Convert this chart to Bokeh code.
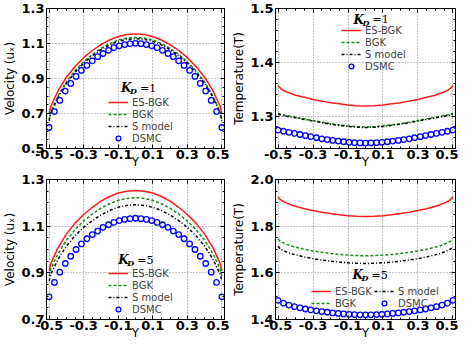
from bokeh.plotting import figure
from bokeh.layouts import column, row
from bokeh.models import (Range1d, FixedTicker, PrintfTickFormatter, LinearAxis,
                          Legend, LegendItem, Label)
from bokeh.embed import file_html
from bokeh.resources import INLINE

# ---------------- data ----------------
y_line = [-0.5, -0.49, -0.475, -0.45, -0.425, -0.4, -0.35, -0.3, -0.25, -0.2, -0.15, -0.1, -0.05, 0.0,
          0.05, 0.1, 0.15, 0.2, 0.25, 0.3, 0.35, 0.4, 0.425, 0.45, 0.475, 0.49, 0.5]
y_dsmc = [-0.5, -0.469, -0.438, -0.406, -0.375, -0.344, -0.313, -0.281, -0.25, -0.219, -0.188,
          -0.156, -0.125, -0.094, -0.063, -0.031, 0.0, 0.031, 0.063, 0.094, 0.125, 0.156, 0.188,
          0.219, 0.25, 0.281, 0.313, 0.344, 0.375, 0.406, 0.438, 0.469, 0.5]

# K_D = 1, velocity
u1_esbgk = [0.700, 0.741, 0.773, 0.826, 0.868, 0.907, 0.969, 1.019, 1.060, 1.094, 1.120, 1.140, 1.151, 1.155,
            1.151, 1.140, 1.120, 1.094, 1.060, 1.019, 0.969, 0.907, 0.868, 0.826, 0.773, 0.741, 0.700]
u1_bgk = [0.667, 0.709, 0.742, 0.797, 0.840, 0.880, 0.944, 0.996, 1.038, 1.072, 1.099, 1.120, 1.131, 1.135,
          1.131, 1.120, 1.099, 1.072, 1.038, 0.996, 0.944, 0.880, 0.840, 0.797, 0.742, 0.709, 0.667]
u1_s = [0.658, 0.700, 0.733, 0.789, 0.832, 0.872, 0.936, 0.988, 1.030, 1.065, 1.092, 1.112, 1.124, 1.128,
        1.124, 1.112, 1.092, 1.065, 1.030, 0.988, 0.936, 0.872, 0.832, 0.789, 0.733, 0.700, 0.658]
u1_dsmc = [0.620, 0.711, 0.775, 0.828, 0.872, 0.912, 0.946, 0.975, 1.001, 1.025, 1.043, 1.061, 1.076,
           1.087, 1.094, 1.099, 1.101, 1.099, 1.094, 1.087, 1.076, 1.061, 1.043, 1.025, 1.001, 0.975,
           0.946, 0.912, 0.872, 0.828, 0.775, 0.711, 0.620]

# K_D = 1, temperature
t1_esbgk = [1.357, 1.353, 1.349, 1.345, 1.342, 1.339, 1.335, 1.331, 1.328, 1.325, 1.323, 1.321, 1.3195, 1.319,
            1.3195, 1.321, 1.323, 1.325, 1.328, 1.331, 1.335, 1.339, 1.342, 1.345, 1.349, 1.353, 1.357]
t1_bgk = [1.305, 1.304, 1.303, 1.301, 1.300, 1.298, 1.295, 1.292, 1.289, 1.286, 1.284, 1.282, 1.2805, 1.280,
          1.2805, 1.282, 1.284, 1.286, 1.289, 1.292, 1.295, 1.298, 1.300, 1.301, 1.303, 1.304, 1.305]
t1_s = [1.304, 1.303, 1.301, 1.300, 1.298, 1.297, 1.294, 1.291, 1.288, 1.285, 1.283, 1.281, 1.2795, 1.279,
        1.2795, 1.281, 1.283, 1.285, 1.288, 1.291, 1.294, 1.297, 1.298, 1.300, 1.301, 1.303, 1.304]
t1_dsmc = [1.274, 1.272, 1.270, 1.268, 1.266, 1.264, 1.262, 1.260, 1.258, 1.2565, 1.255, 1.2537, 1.2525,
           1.2515, 1.2508, 1.2503, 1.250, 1.2503, 1.2508, 1.2515, 1.2525, 1.2537, 1.255, 1.2565, 1.258,
           1.260, 1.262, 1.264, 1.266, 1.268, 1.270, 1.272, 1.274]

# K_D = 5, velocity
u5_esbgk = [0.909, 0.940, 0.964, 1.005, 1.036, 1.066, 1.113, 1.150, 1.181, 1.207, 1.227, 1.242, 1.250, 1.253,
            1.250, 1.242, 1.227, 1.207, 1.181, 1.150, 1.113, 1.066, 1.036, 1.005, 0.964, 0.940, 0.909]
u5_bgk = [0.886, 0.916, 0.940, 0.979, 1.010, 1.039, 1.085, 1.122, 1.152, 1.177, 1.196, 1.211, 1.219, 1.222,
          1.219, 1.211, 1.196, 1.177, 1.152, 1.122, 1.085, 1.039, 1.010, 0.979, 0.940, 0.916, 0.886]
u5_s = [0.865, 0.894, 0.917, 0.956, 0.986, 1.014, 1.059, 1.095, 1.124, 1.148, 1.167, 1.181, 1.189, 1.192,
        1.189, 1.181, 1.167, 1.148, 1.124, 1.095, 1.059, 1.014, 0.986, 0.956, 0.917, 0.894, 0.865]
u5_dsmc = [0.797, 0.859, 0.903, 0.940, 0.971, 1.000, 1.024, 1.046, 1.064, 1.079, 1.095, 1.106, 1.116,
           1.124, 1.129, 1.132, 1.134, 1.132, 1.129, 1.124, 1.116, 1.106, 1.095, 1.079, 1.064, 1.046,
           1.024, 1.000, 0.971, 0.940, 0.903, 0.859, 0.797]

# K_D = 5, temperature
t5_esbgk = [1.926, 1.916, 1.908, 1.899, 1.891, 1.885, 1.875, 1.867, 1.860, 1.854, 1.849, 1.845, 1.842, 1.841,
            1.842, 1.845, 1.849, 1.854, 1.860, 1.867, 1.875, 1.885, 1.891, 1.899, 1.908, 1.916, 1.926]
t5_bgk = [1.745, 1.737, 1.730, 1.722, 1.715, 1.710, 1.701, 1.694, 1.688, 1.683, 1.679, 1.676, 1.674, 1.673,
          1.674, 1.676, 1.679, 1.683, 1.688, 1.694, 1.701, 1.710, 1.715, 1.722, 1.730, 1.737, 1.745]
t5_s = [1.714, 1.704, 1.697, 1.689, 1.682, 1.677, 1.668, 1.661, 1.655, 1.650, 1.646, 1.643, 1.641, 1.640,
        1.641, 1.643, 1.646, 1.650, 1.655, 1.661, 1.668, 1.677, 1.682, 1.689, 1.697, 1.704, 1.714]
t5_dsmc = [1.482, 1.470, 1.462, 1.455, 1.450, 1.445, 1.441, 1.437, 1.434, 1.431, 1.428, 1.426, 1.424,
           1.422, 1.421, 1.420, 1.420, 1.420, 1.421, 1.422, 1.424, 1.426, 1.428, 1.431, 1.434, 1.437,
           1.441, 1.445, 1.450, 1.455, 1.462, 1.470, 1.482]

x_ticks = [-0.5, -0.3, -0.1, 0.1, 0.3, 0.5]
yticks_u1 = [0.5, 0.7, 0.9, 1.1, 1.3]
yticks_t1 = [1.3, 1.4, 1.5]
yticks_u5 = [0.7, 0.9, 1.1, 1.3]
yticks_t5 = [1.4, 1.6, 1.8, 2.0]

series_names = ["ES-BGK", "BGK", "S model", "DSMC"]
kd_values = ["=1", "=5"]
x_label = "Y"

# ---------------- styling helpers ----------------
FONT = "DejaVu Sans"
RED, GREEN, BLACK, BLUE = "#ff1a1a", "#1a8a1a", "#000000", "#0000ff"


def minor_list(lo, hi, step):
    n = int(round((hi - lo) / step))
    return [round(lo + i * step, 4) for i in range(n + 1)]


def style_axis(ax, ticks, minor, show_labels=True):
    ax.ticker = FixedTicker(ticks=ticks, minor_ticks=minor)
    ax.formatter = PrintfTickFormatter(format="%.1f")
    ax.major_tick_in = 4
    ax.major_tick_out = 0
    ax.minor_tick_in = 2
    ax.minor_tick_out = 0
    ax.major_tick_line_color = "black"
    ax.minor_tick_line_color = "black"
    ax.axis_line_color = "black"
    ax.major_label_text_font = FONT
    ax.major_label_text_font_style = "bold"
    ax.major_label_text_color = "black"
    ax.major_label_text_line_height = 1.0
    if show_labels:
        ax.major_label_text_font_size = "13px"
        ax.major_label_standoff = 2
    else:
        ax.major_label_text_font_size = "1px"
        ax.major_label_text_color = None
        ax.major_label_standoff = 0
    ax.axis_label_text_font = FONT
    ax.axis_label_text_font_size = "12px"
    ax.axis_label_text_font_style = "normal"
    ax.axis_label_text_color = "black"
    ax.axis_label_text_line_height = 1.0
    ax.axis_label_standoff = 1


def make_panel(yr, yticks, ystep_minor, ylabel, width, height, mbl, mbr, mbt, mbb):
    p = figure(width=width, height=height, x_range=Range1d(-0.515, 0.515), y_range=Range1d(*yr),
               output_backend="svg", toolbar_location=None,
               min_border_left=mbl, min_border_right=mbr, min_border_top=mbt, min_border_bottom=mbb)
    p.outline_line_color = "black"
    p.outline_line_width = 1
    p.background_fill_color = "white"
    p.border_fill_color = "white"
    xminor = minor_list(-0.5, 0.5, 0.05)
    yminor = minor_list(yr[0], yr[1], ystep_minor)
    style_axis(p.xaxis[0], x_ticks, xminor)
    style_axis(p.yaxis[0], yticks, yminor)
    p.xaxis[0].axis_label = x_label
    p.xaxis[0].major_label_standoff = 1
    p.xaxis[0].axis_label_standoff = -7
    p.yaxis[0].axis_label = ylabel
    ax_r = LinearAxis()
    style_axis(ax_r, yticks, yminor, show_labels=False)
    p.add_layout(ax_r, "right")
    ax_t = LinearAxis()
    style_axis(ax_t, x_ticks, xminor, show_labels=False)
    p.add_layout(ax_t, "above")
    p.xgrid.ticker = FixedTicker(ticks=x_ticks)
    p.ygrid.ticker = FixedTicker(ticks=yticks)
    for g in (p.xgrid, p.ygrid):
        g.grid_line_color = "#8a8a8a"
        g.grid_line_dash = "1 2"
        g.grid_line_width = 1
    return p


def add_series(p, ys):
    r1 = p.line(y_line, ys[0], line_color=RED, line_width=1.5)
    r2 = p.line(y_line, ys[1], line_color=GREEN, line_width=1.5, line_dash="3 2")
    r3 = p.line(y_line, ys[2], line_color=BLACK, line_width=1.5, line_dash="3 2 1 2")
    r4 = p.scatter(y_dsmc, ys[3], marker="circle", size=5.5, line_color=BLUE, line_width=1.3,
                   fill_color=None)
    return [r1, r2, r3, r4]


def make_legend(items, loc):
    lg = Legend(items=items, location=loc)
    lg.background_fill_alpha = 0
    lg.border_line_color = None
    lg.padding = 0
    lg.margin = 0
    lg.spacing = 0
    lg.label_text_font = FONT
    lg.label_text_font_size = "10px"
    lg.label_height = 12
    lg.glyph_height = 12
    lg.glyph_width = 20
    lg.label_standoff = 4
    return lg


def add_kd(p, x, y, kd):
    common = dict(text_font="DejaVu Serif", text_color="black", text_baseline="middle")
    p.add_layout(Label(x=x, y=y, text="K", text_font_size="12px", text_font_style="bold italic", **common))
    p.add_layout(Label(x=x, y=y, x_offset=9, y_offset=-3, text="D", text_font_size="8px",
                       text_font_style="bold italic", **common))
    p.add_layout(Label(x=x, y=y, x_offset=19, text=kd, text_font_size="11px",
                       text_font_style="normal", **common))


# ---------------- panels ----------------
p1 = make_panel((0.5, 1.3), yticks_u1, 0.05, "Velocity (uₓ)", 229, 171, 30, 5, 8, 20)
r = add_series(p1, [u1_esbgk, u1_bgk, u1_s, u1_dsmc])
p1.add_layout(make_legend([LegendItem(label=n, renderers=[rr]) for n, rr in zip(series_names, r)], (62, 4)))
add_kd(p1, -0.084, 0.843, kd_values[0])

p2 = make_panel((1.24, 1.5), yticks_t1, 0.02, "Temperature(T)", 229, 171, 30, 3, 8, 20)
r = add_series(p2, [t1_esbgk, t1_bgk, t1_s, t1_dsmc])
p2.add_layout(make_legend([LegendItem(label=n, renderers=[rr]) for n, rr in zip(series_names, r)], (66, 76)))
add_kd(p2, -0.068, 1.4795, kd_values[0])

p3 = make_panel((0.7, 1.3), yticks_u5, 0.05, "Velocity (uₓ)", 229, 171, 30, 5, 8, 20)
r = add_series(p3, [u5_esbgk, u5_bgk, u5_s, u5_dsmc])
p3.add_layout(make_legend([LegendItem(label=n, renderers=[rr]) for n, rr in zip(series_names, r)], (62, 4)))
add_kd(p3, -0.1, 0.955, kd_values[1])

p4 = make_panel((1.4, 2.0), yticks_t5, 0.05, "Temperature(T)", 229, 171, 30, 3, 8, 20)
r = add_series(p4, [t5_esbgk, t5_bgk, t5_s, t5_dsmc])
p4.add_layout(make_legend([LegendItem(label=n, renderers=[rr]) for n, rr in zip(series_names[:2], r[:2])], (36, 10)))
p4.add_layout(make_legend([LegendItem(label=n, renderers=[rr]) for n, rr in zip(series_names[2:], r[2:])], (99, 10)))
add_kd(p4, -0.074, 1.59, kd_values[1])

layout = column(row(p1, p2), row(p3, p4))

with open("out.html", "w") as f:
    f.write(file_html(layout, INLINE))
